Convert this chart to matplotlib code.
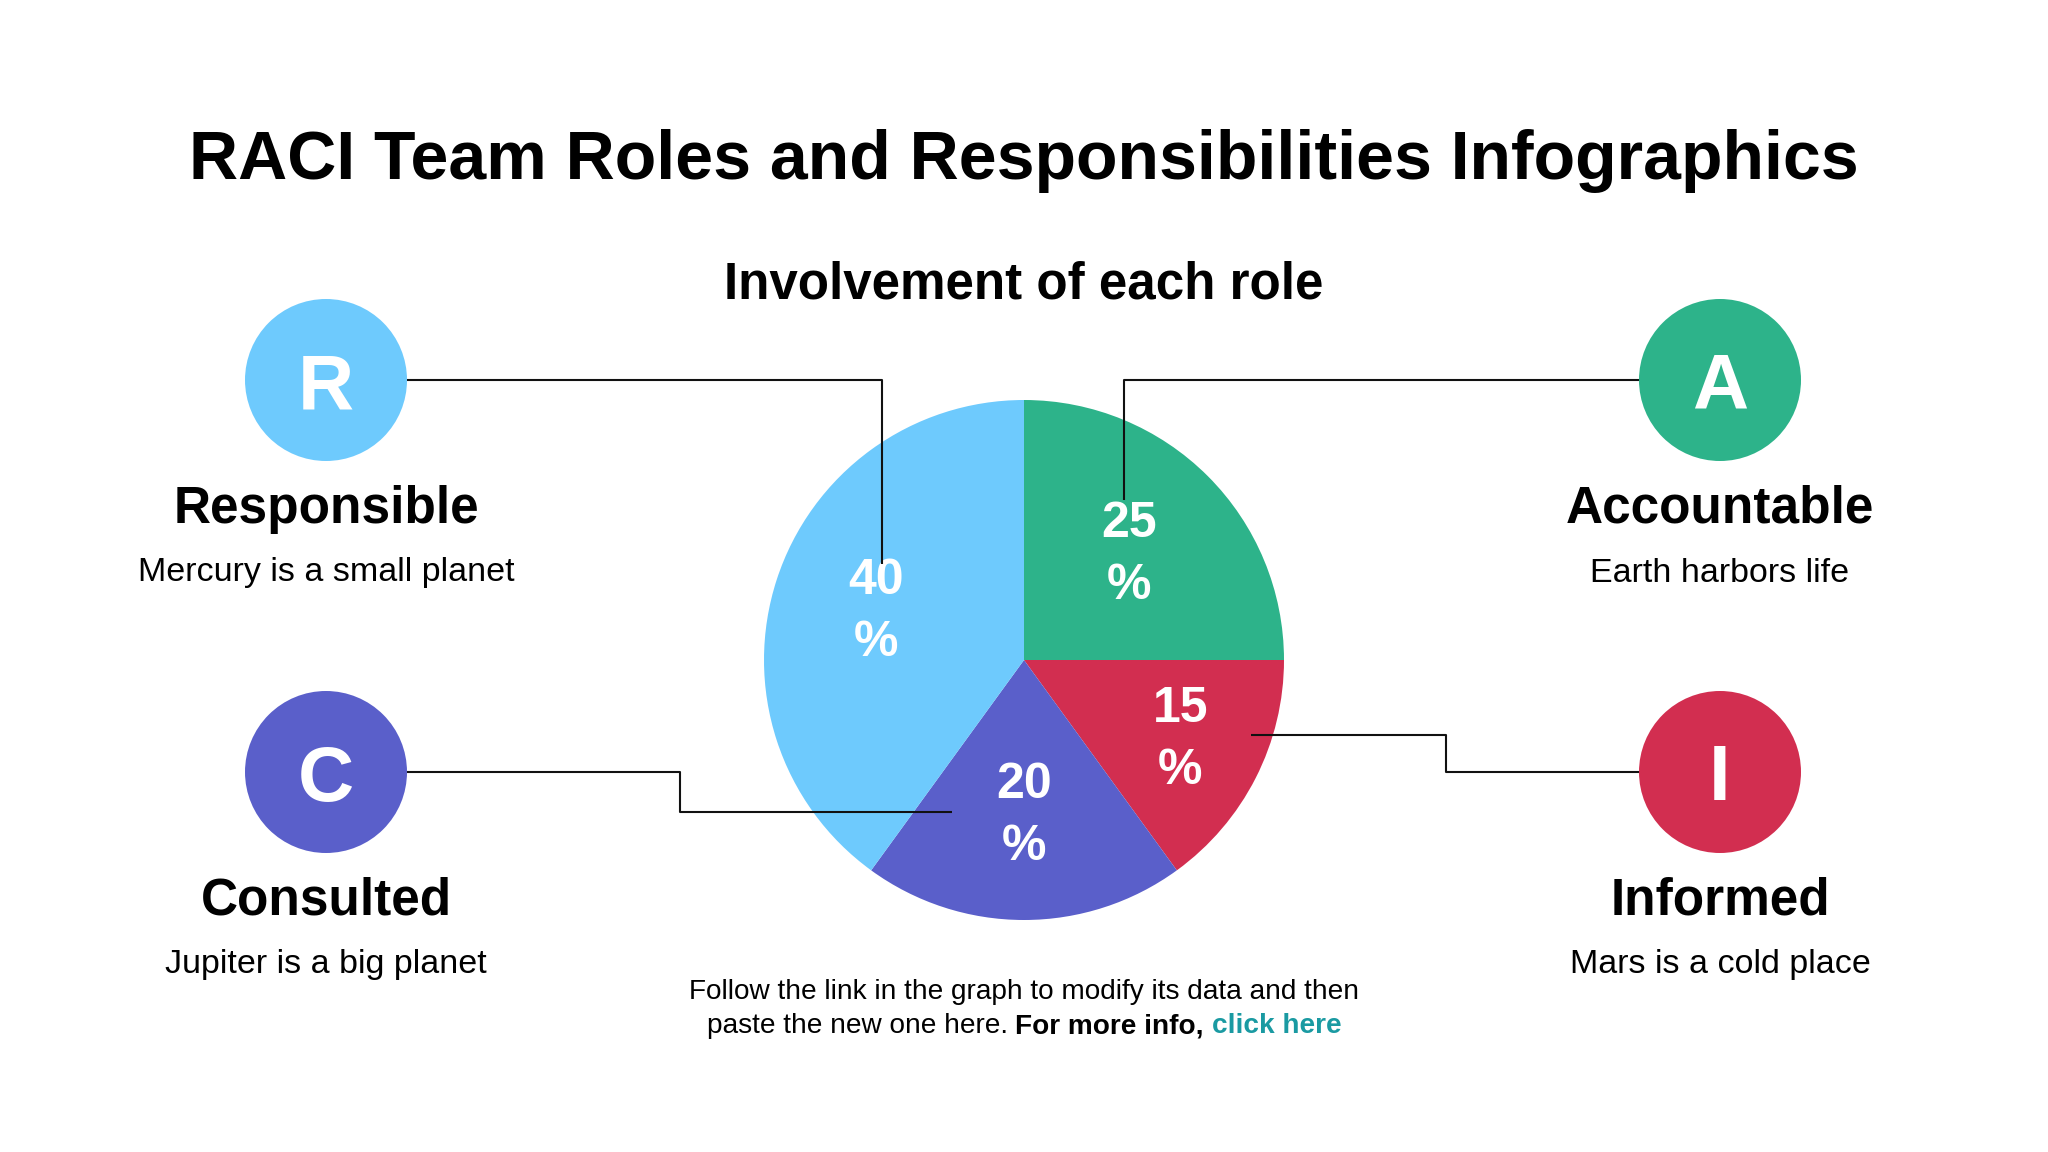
import numpy as np
import matplotlib.pyplot as plt
from matplotlib.patches import Circle

plt.rcParams['font.family'] = ['Liberation Sans', 'DejaVu Sans']

# data
roles = ['Accountable', 'Informed', 'Consulted', 'Responsible']
letters = ['A', 'I', 'C', 'R']
shares = [25, 15, 20, 40]
descriptions = ['Earth harbors life', 'Mars is a cold place',
                'Jupiter is a big planet', 'Mercury is a small planet']
colors = ['#2db38a', '#d22e50', '#5a5fca', '#6ecafd']

W, H = 2048, 1152
fig = plt.figure(figsize=(20.48, 11.52), dpi=100)
ax = fig.add_axes([0, 0, 1, 1])


def Y(y):
    # pixel rows measured from the top -> data y
    return H - y


# pie
pie_c = (1024, Y(660))
R = 260
wedges, _, autotexts = ax.pie(
    shares, colors=colors, startangle=90, counterclock=False,
    center=pie_c, radius=R, autopct=lambda p: f'{p:.0f}\n%', pctdistance=0.6,
    textprops=dict(color='white', fontsize=36, fontweight='bold'),
    wedgeprops=dict(linewidth=0))

# label distance per slice (small one sits a bit further out)
label_r = [0.57, 0.675, 0.6, 0.6]
for w, t, lr in zip(wedges, autotexts, label_r):
    mid = np.deg2rad((w.theta1 + w.theta2) / 2)
    t.set_position((pie_c[0] + lr * R * np.cos(mid), pie_c[1] + lr * R * np.sin(mid)))
    t.set_linespacing(1.45)

ax.set_xlim(0, W)
ax.set_ylim(0, H)
ax.set_aspect('equal')
ax.axis('off')

# connectors (drawn under the badges)
paths = {
    'Responsible': [(407, 380), (882, 380), (882, 564)],
    'Accountable': [(1640, 380), (1124, 380), (1124, 500)],
    'Consulted': [(407, 772), (680, 772), (680, 812), (952, 812)],
    'Informed': [(1640, 772), (1446, 772), (1446, 735), (1251, 735)],
}
for name, pts in paths.items():
    xs = [p[0] for p in pts]
    ys = [Y(p[1]) for p in pts]
    ax.plot(xs, ys, color='#111111', lw=1.5, solid_capstyle='butt', zorder=3)

# badges
badge_pos = {'Accountable': (1720, 380), 'Informed': (1720, 772),
             'Consulted': (326, 772), 'Responsible': (326, 380)}
for name, letter, desc, col in zip(roles, letters, descriptions, colors):
    bx, by = badge_pos[name]
    ax.add_patch(Circle((bx, Y(by)), 81, facecolor=col, edgecolor='none', zorder=4))
    ax.text(bx, Y(by), letter, color='white', fontsize=56, fontweight='bold',
            ha='center', va='center_baseline', zorder=5)
    ax.text(bx, Y(by + 129), name, color='black', fontsize=37, fontweight='bold',
            ha='center', va='center')
    ax.text(bx, Y(by + 193), desc, color='black', fontsize=24.5,
            ha='center', va='center')

# titles
ax.text(W / 2, Y(161), 'RACI Team Roles and Responsibilities Infographics',
        fontsize=49, fontweight='bold', ha='center', va='center')
ax.text(W / 2, Y(285), 'Involvement of each role',
        fontsize=36.8, fontweight='bold', ha='center', va='center')

# footnote
ax.text(W / 2, Y(992), 'Follow the link in the graph to modify its data and then',
        fontsize=20.2, ha='center', va='center')
parts = [('paste the new one here. ', 'normal', 'black'),
         ('For more info, ', 'bold', 'black'),
         ('click here', 'bold', '#1a9aa2')]
texts = [ax.text(0, Y(1026), s, fontsize=20.2, fontweight=fw, color=c,
                 ha='left', va='center') for s, fw, c in parts]
renderer = fig.canvas.get_renderer()
widths = [t.get_window_extent(renderer).width for t in texts]
x0 = W / 2 - sum(widths) / 2
for t, w in zip(texts, widths):
    t.set_x(x0)
    x0 += w

fig.savefig('out.png', dpi=100, facecolor='white')
